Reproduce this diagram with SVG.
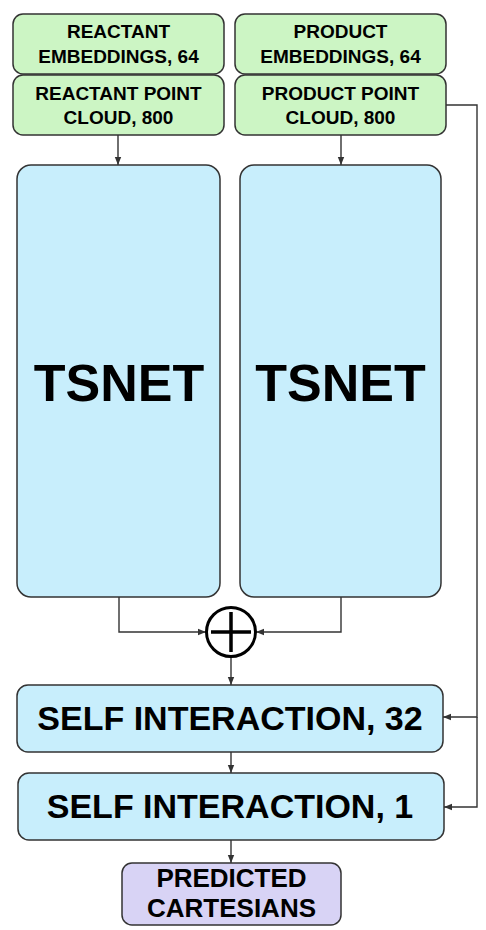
<svg xmlns="http://www.w3.org/2000/svg" width="486" height="930" viewBox="0 0 486 930">
<defs>
<style>
.g{fill:#ccf5c4;stroke:#333;stroke-width:1.5}
.b{fill:#c8eefc;stroke:#333;stroke-width:1.5}
.p{fill:#d8d3f5;stroke:#333;stroke-width:1.5}
text{font-family:"Liberation Sans",Arial,sans-serif;font-weight:bold;fill:#000;text-anchor:middle}
.s{font-size:19px}
.m{font-size:34px}
.l{font-size:52px}
.c{font-size:26px}
.w{fill:none;stroke:#333;stroke-width:1.4}
</style>
<marker id="a" viewBox="0 0 10 10" refX="10" refY="5" markerWidth="6" markerHeight="6" orient="auto"><path d="M0,1 L10,5 L0,9 z" fill="#333"/></marker>
</defs>
<rect width="486" height="930" fill="#fff"/>
<g id="connectors">
<path class="w" d="M118,135 V165" marker-end="url(#a)"/>
<path class="w" d="M341,135 V165" marker-end="url(#a)"/>
<path class="w" d="M119,597 V632 H206" marker-end="url(#a)"/>
<path class="w" d="M341,597 V632 H256" marker-end="url(#a)"/>
<path class="w" d="M231,657 V685" marker-end="url(#a)"/>
<path class="w" d="M231,752 V773" marker-end="url(#a)"/>
<path class="w" d="M231,840 V863" marker-end="url(#a)"/>
<path class="w" d="M446,105 H477 V717 H443" marker-end="url(#a)"/>
<path class="w" d="M477,717 V807 H444" marker-end="url(#a)"/>
</g>
<g id="reactant-embeddings">
<rect class="g" x="13" y="14" width="211" height="60" rx="10"/>
<text class="s" x="118.5" y="38">REACTANT</text>
<text class="s" x="118.5" y="63">EMBEDDINGS, 64</text>
</g>
<g id="reactant-point-cloud">
<rect class="g" x="13" y="75" width="211" height="60" rx="10"/>
<text class="s" x="118.5" y="100">REACTANT POINT</text>
<text class="s" x="118.5" y="124">CLOUD, 800</text>
</g>
<g id="product-embeddings">
<rect class="g" x="235" y="14" width="211" height="60" rx="10"/>
<text class="s" x="340.5" y="38">PRODUCT</text>
<text class="s" x="340.5" y="63">EMBEDDINGS, 64</text>
</g>
<g id="product-point-cloud">
<rect class="g" x="235" y="75" width="211" height="60" rx="10"/>
<text class="s" x="340.5" y="100">PRODUCT POINT</text>
<text class="s" x="340.5" y="124">CLOUD, 800</text>
</g>
<g id="tsnet-reactant">
<rect class="b" x="17" y="165" width="203" height="432" rx="14"/>
<text class="l" x="119" y="401">TSNET</text>
</g>
<g id="tsnet-product">
<rect class="b" x="240" y="165" width="201" height="432" rx="14"/>
<text class="l" x="340.5" y="401">TSNET</text>
</g>
<g id="sum">
<circle cx="231" cy="632" r="24.5" fill="#fff" stroke="#000" stroke-width="3"/>
<path d="M211,632 H251 M231,612 V652" stroke="#000" stroke-width="3.5" fill="none"/>
</g>
<g id="self-interaction-32">
<rect class="b" x="17" y="685" width="426" height="67" rx="11"/>
<text class="m" x="230" y="730">SELF INTERACTION, 32</text>
</g>
<g id="self-interaction-1">
<rect class="b" x="18" y="773" width="426" height="67" rx="11"/>
<text class="m" x="230" y="818">SELF INTERACTION, 1</text>
</g>
<g id="predicted-cartesians">
<rect class="p" x="122" y="863" width="219" height="62" rx="10"/>
<text class="c" x="231.5" y="887">PREDICTED</text>
<text class="c" x="231.5" y="917">CARTESIANS</text>
</g>
</svg>
